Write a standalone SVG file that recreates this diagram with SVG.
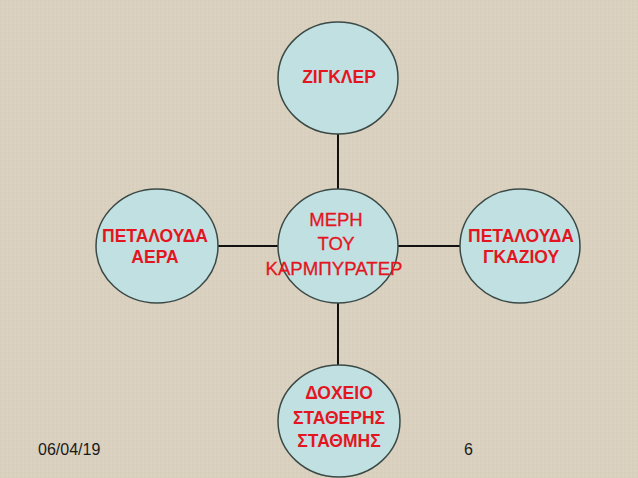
<svg xmlns="http://www.w3.org/2000/svg" width="638" height="478" viewBox="0 0 638 478">
<defs>
<pattern id="linen" width="4" height="4" patternUnits="userSpaceOnUse">
<rect width="4" height="4" fill="#d9d0bf"/>
<path d="M0 1H4" stroke="#d1c8b5" stroke-width="0.6"/>
<path d="M3 0V4" stroke="#e0d8c8" stroke-width="0.6"/>
</pattern>
<style>
.node{fill:#c1e0e2;stroke:#3b4a47;stroke-width:1.5}
.lbl{font-family:"Liberation Sans",Arial,sans-serif;font-weight:bold;font-size:17.5px;fill:#e3161f;text-anchor:middle}
.ctr{font-family:"Liberation Sans",Arial,sans-serif;font-size:18.5px;fill:#e3161f;text-anchor:middle;stroke:#e3161f;stroke-width:0.3}
.foot{font-family:"Liberation Sans",Arial,sans-serif;font-size:16px;fill:#1a1a1a}
.conn{stroke:#111;stroke-width:2;fill:none}
</style>
</defs>
<rect width="638" height="478" fill="url(#linen)"/>
<g id="connectors">
<line class="conn" x1="338" y1="134" x2="338" y2="190"/>
<line class="conn" x1="338" y1="302" x2="338" y2="365"/>
<line class="conn" x1="218" y1="246" x2="279" y2="246"/>
<line class="conn" x1="398" y1="246" x2="461" y2="246"/>
</g>
<g id="top">
<ellipse class="node" cx="338" cy="78" rx="60" ry="56"/>
<text class="lbl" x="339" y="83">ΖΙΓΚΛΕΡ</text>
</g>
<g id="center">
<ellipse class="node" cx="338" cy="246" rx="60" ry="57"/>
<text class="ctr" x="336" y="226">ΜΕΡΗ</text>
<text class="ctr" x="336" y="250">ΤΟΥ</text>
<text class="ctr" x="334" y="275" textLength="137" lengthAdjust="spacingAndGlyphs">ΚΑΡΜΠΥΡΑΤΕΡ</text>
</g>
<g id="left">
<ellipse class="node" cx="157" cy="246" rx="61" ry="57"/>
<text class="lbl" x="155" y="242">ΠΕΤΑΛΟΥΔΑ</text>
<text class="lbl" x="155" y="263">ΑΕΡΑ</text>
</g>
<g id="right">
<ellipse class="node" cx="520" cy="246" rx="60" ry="57"/>
<text class="lbl" x="521" y="242">ΠΕΤΑΛΟΥΔΑ</text>
<text class="lbl" x="521" y="263">ΓΚΑΖΙΟΥ</text>
</g>
<g id="bottom">
<ellipse class="node" cx="339" cy="421" rx="61" ry="56"/>
<text class="lbl" x="339" y="399">ΔΟΧΕΙΟ</text>
<text class="lbl" x="339" y="424">ΣΤΑΘΕΡΗΣ</text>
<text class="lbl" x="339" y="447">ΣΤΑΘΜΗΣ</text>
</g>
<text class="foot" x="38" y="455">06/04/19</text>
<text class="foot" x="464" y="455">6</text>
</svg>
